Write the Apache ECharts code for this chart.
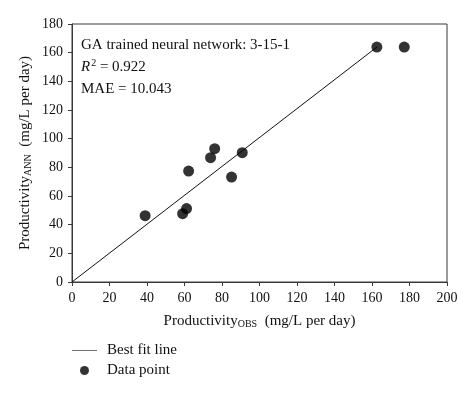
<!DOCTYPE html>
<html>
<head>
<meta charset="utf-8">
<script src="https://cdn.jsdelivr.net/npm/echarts@6/dist/echarts.min.js"></script>
<style>html,body{margin:0;padding:0;background:#fff;}#c{width:474px;height:395px;}</style>
</head>
<body>
<div id="c"></div>
<script>
// Observed productivity (x) and ANN-predicted productivity (y)
const obsValues = [39.0, 59.0, 61.1, 62.2, 73.9, 76.1, 85.1, 90.8, 162.6, 177.2];
const annValues = [46.3, 47.7, 51.2, 77.4, 86.7, 93.0, 73.2, 90.2, 163.9, 163.9];
// Best fit line end points
const fitX = [0, 162.6];
const fitY = [0, 163.9];
const xTicks = [0, 20, 40, 60, 80, 100, 120, 140, 160, 180, 200];
const yTicks = [0, 20, 40, 60, 80, 100, 120, 140, 160, 180];
const seriesNames = ['Best fit line', 'Data point'];
const annotations = ['GA trained neural network: 3-15-1', 'R2 = 0.922', 'MAE = 10.043'];

const FONT = '"Liberation Serif", "DejaVu Serif", serif';
const chart = echarts.init(document.getElementById('c'), null, {renderer: 'canvas'});
const pts = obsValues.map((x, i) => [x, annValues[i]]);
const fit = fitX.map((x, i) => [x, fitY[i]]);

chart.setOption({
  animation: false,
  backgroundColor: '#fff',
  textStyle: {fontFamily: FONT},
  grid: {left: 72, right: 27, top: 24, bottom: 113, show: true, borderColor: '#3a3a3a', borderWidth: 1, backgroundColor: 'transparent'},
  xAxis: {
    type: 'value', min: xTicks[0], max: xTicks[xTicks.length - 1], interval: 20,
    axisLine: {show: true, lineStyle: {color: '#3a3a3a', width: 1}},
    axisTick: {show: true, length: 4, lineStyle: {color: '#3a3a3a'}},
    splitLine: {show: false},
    axisLabel: {color: '#111', fontSize: 14, fontFamily: FONT, margin: 9},
    name: '{a|Productivity}{s|OBS}{a|  (mg/L per day)}',
    nameLocation: 'middle', nameGap: 30, nameMoveOverlap: false,
    nameTextStyle: {
      fontFamily: FONT, color: '#111',
      rich: {
        a: {fontSize: 15, fontFamily: FONT, color: '#111', lineHeight: 18},
        s: {fontSize: 10, fontFamily: FONT, color: '#111', lineHeight: 18, padding: [7, 0, 0, 0]}
      }
    }
  },
  yAxis: {
    type: 'value', min: yTicks[0], max: yTicks[yTicks.length - 1], interval: 20,
    axisLine: {show: true, lineStyle: {color: '#3a3a3a', width: 1}},
    axisTick: {show: true, length: 4, lineStyle: {color: '#3a3a3a'}},
    splitLine: {show: false},
    axisLabel: {color: '#111', fontSize: 14, fontFamily: FONT, margin: 9},
    name: '{a|Productivity}{s|ANN}{a|  (mg/L per day)}',
    nameLocation: 'middle', nameGap: 38, nameRotate: 90, nameMoveOverlap: false,
    nameTextStyle: {
      fontFamily: FONT, color: '#111',
      rich: {
        a: {fontSize: 15, fontFamily: FONT, color: '#111', lineHeight: 18},
        s: {fontSize: 10, fontFamily: FONT, color: '#111', lineHeight: 18, padding: [7, 0, 0, 0]}
      }
    }
  },
  legend: {
    orient: 'vertical', left: 72, top: 343, itemGap: 5, padding: 0,
    itemWidth: 25, itemHeight: 9,
    textStyle: {fontFamily: FONT, fontSize: 15, color: '#111', padding: [0, 0, 0, 5]},
    data: [
      {name: seriesNames[0], icon: 'path://M0,0 L25,0 L25,0.6 L0,0.6 Z'},
      {name: seriesNames[1], icon: 'circle'}
    ]
  },
  graphic: [
    {type: 'text', left: 81, top: 38, style: {text: annotations[0], font: '15px ' + FONT, fill: '#111'}},
    {type: 'text', left: 81, top: 58, style: {
      text: '{i|R}{p|2}{n| = 0.922}',
      rich: {
        i: {font: 'italic 15px ' + FONT, fill: '#111', lineHeight: 18},
        p: {font: '10px ' + FONT, fill: '#111', lineHeight: 18, padding: [0, 0, 8, 1]},
        n: {font: '15px ' + FONT, fill: '#111', lineHeight: 18}
      }
    }},
    {type: 'text', left: 81, top: 82, style: {text: annotations[2], font: '15px ' + FONT, fill: '#111'}}
  ],
  series: [
    {name: seriesNames[0], type: 'line', data: fit, showSymbol: false, symbol: 'none',
     lineStyle: {color: '#111', width: 1}, itemStyle: {color: '#111'}, z: 2},
    {name: seriesNames[1], type: 'scatter', data: pts, symbol: 'circle', symbolSize: 11,
     itemStyle: {color: '#000'}, z: 3}
  ]
});
</script>
</body>
</html>
